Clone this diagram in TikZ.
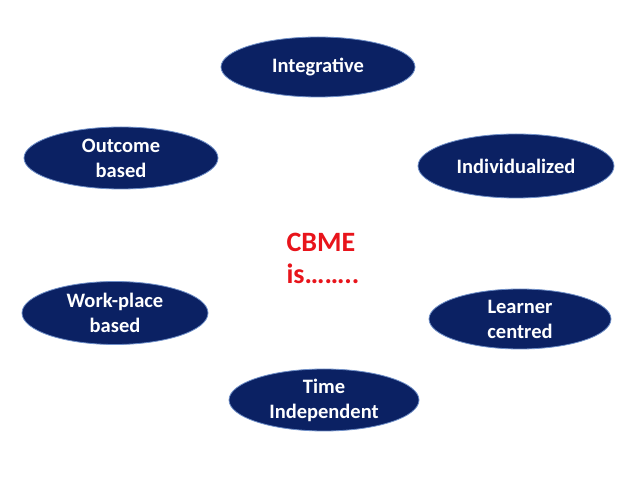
\documentclass[tikz,border=0pt]{standalone}
\usepackage{fontspec}
\setmainfont{Carlito}
\usetikzlibrary{shapes.geometric}
\definecolor{navy}{HTML}{0B2163}
\definecolor{rim}{HTML}{6F8FC8}
\definecolor{cred}{HTML}{E8141B}
\begin{document}
\begin{tikzpicture}[x=1pt,y=-1pt,
  oval/.style={ellipse,draw=rim,line width=0.8pt,fill=navy,text=white,font=\fontsize{20.5}{25}\selectfont\bfseries,align=center,inner sep=0pt},
  center/.style={text=cred,font=\fontsize{28}{32}\selectfont\bfseries,align=left}]
\useasboundingbox[fill=white] (0,0) rectangle (638,478);
\node[oval,minimum width=194,minimum height=60] (int) at (318,67) {Integrative};
\node[oval,minimum width=194,minimum height=62] (out) at (121,158) {Outcome\\based};
\node[oval,minimum width=196,minimum height=64] (ind) at (516,166) {Individualized};
\node[oval,minimum width=186,minimum height=63] (wpb) at (115,313) {Work-place\\based};
\node[oval,minimum width=182,minimum height=60] (lc) at (520,319) {Learner\\centred};
\node[oval,minimum width=190,minimum height=62] (ti) at (324,400) {Time\\Independent};
\node[center] (cb) at (323,258) {CBME\\is……..};
\end{tikzpicture}
\end{document}
